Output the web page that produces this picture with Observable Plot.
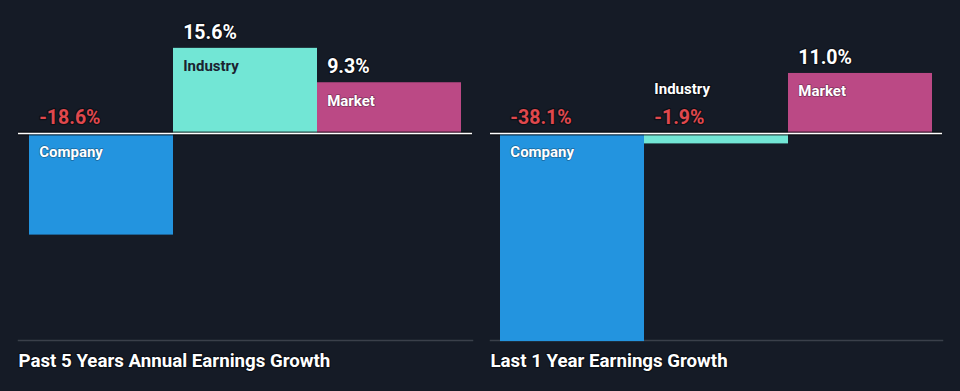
<!DOCTYPE html>
<html>
<head>
<meta charset="utf-8">
<script src="https://cdn.jsdelivr.net/npm/d3@7"></script>
<script src="https://cdn.jsdelivr.net/npm/@observablehq/plot@0.6"></script>
<style>
  html, body { margin: 0; padding: 0; background: #151b26; }
  #wrap { display: flex; width: 960px; height: 391px; overflow: hidden; }
  #wrap svg { display: block; background: #151b26; }
</style>
</head>
<body>
<div id="wrap"></div>
<script>
const categories = ["Company", "Industry", "Market"];
const panelTitles = ["Past 5 Years Annual Earnings Growth", "Last 1 Year Earnings Growth"];
const past5YearsGrowth = [-18.6, 15.6, 9.3];
const last1YearGrowth = [-38.1, -1.9, 11.0];

const colors = { Company: "#2394df", Industry: "#72e6d5", Market: "#bb4985" };
const BG = "#151b26";
const RED = "#e0484d";

function panel(title, values, opts) {
  const data = categories.map((c, i) => ({ category: c, value: values[i] }));
  const yDomain = [-37.9, 24.36];
  const H = 391, mb = 51, mt = 0;
  const pxPerUnit = (H - mb - mt) / (yDomain[1] - yDomain[0]);
  const bw = (opts.xRange[1] - opts.xRange[0]) / categories.length;
  const dx = -bw / 2 + 10;
  const small = d => d.value < 0 && Math.abs(d.value) * pxPerUnit < 30;
  const halo = { stroke: "#05070a", strokeWidth: 2.5, strokeOpacity: 0.55 };
  const catStyle = {
    x: "category", text: "category", dx, textAnchor: "start",
    fontSize: 15, fontWeight: "bold",
    fill: d => d.category === "Industry" ? "#1b2330" : "#ffffff",
    stroke: d => d.category === "Industry" ? "none" : "#05070a",
    strokeWidth: 1.5, strokeOpacity: 0.35
  };
  return Plot.plot({
    width: 480,
    height: H,
    marginTop: mt,
    marginBottom: mb,
    marginLeft: opts.ml,
    marginRight: opts.mr,
    style: { background: BG, fontFamily: "Roboto, sans-serif", overflow: "visible" },
    x: { type: "band", domain: categories, range: opts.xRange, padding: 0, axis: null },
    y: { domain: yDomain, axis: null },
    marks: [
      Plot.frame({ anchor: "bottom", stroke: "#3a404a", strokeWidth: 1.5 }),
      Plot.barY(data, { x: "category", y: "value", fill: d => colors[d.category], inset: 0 }),
      Plot.ruleY([0], { stroke: "#05070a", strokeWidth: 4, strokeOpacity: 0.7 }),
      Plot.ruleY([0], { stroke: "#ffffff", strokeWidth: 1.5 }),
      // value labels
      Plot.text(data, {
        x: "category", y: d => Math.max(0, d.value),
        text: d => d.value.toFixed(1) + "%",
        dx, dy: -16, textAnchor: "start",
        fontSize: 19.5, fontWeight: "bold",
        fill: d => d.value < 0 ? RED : "#ffffff",
        ...halo
      }),
      // category labels inside positive bars
      Plot.text(data.filter(d => d.value >= 0), { ...catStyle, y: "value", dy: 18 }),
      // category labels inside negative bars
      Plot.text(data.filter(d => d.value < 0 && !small(d)), { ...catStyle, y: 0, dy: 19 }),
      // category labels above tiny negative bars
      Plot.text(data.filter(small), {
        x: "category", y: 0,
        text: "category",
        dx, dy: -44, textAnchor: "start",
        fontSize: 15, fontWeight: "bold",
        fill: "#ffffff", ...halo
      }),
      // panel title
      Plot.text([title], {
        frameAnchor: "bottom-left", dy: 26, textAnchor: "start",
        fontSize: 18.7, fontWeight: "bold", fill: "#ffffff",
        ...halo
      })
    ]
  });
}

const wrap = document.getElementById("wrap");
wrap.appendChild(panel(panelTitles[0], past5YearsGrowth, { ml: 18, mr: 8, xRange: [28, 462] }));
wrap.appendChild(panel(panelTitles[1], last1YearGrowth, { ml: 10, mr: 18, xRange: [19, 452] }));
</script>
</body>
</html>
